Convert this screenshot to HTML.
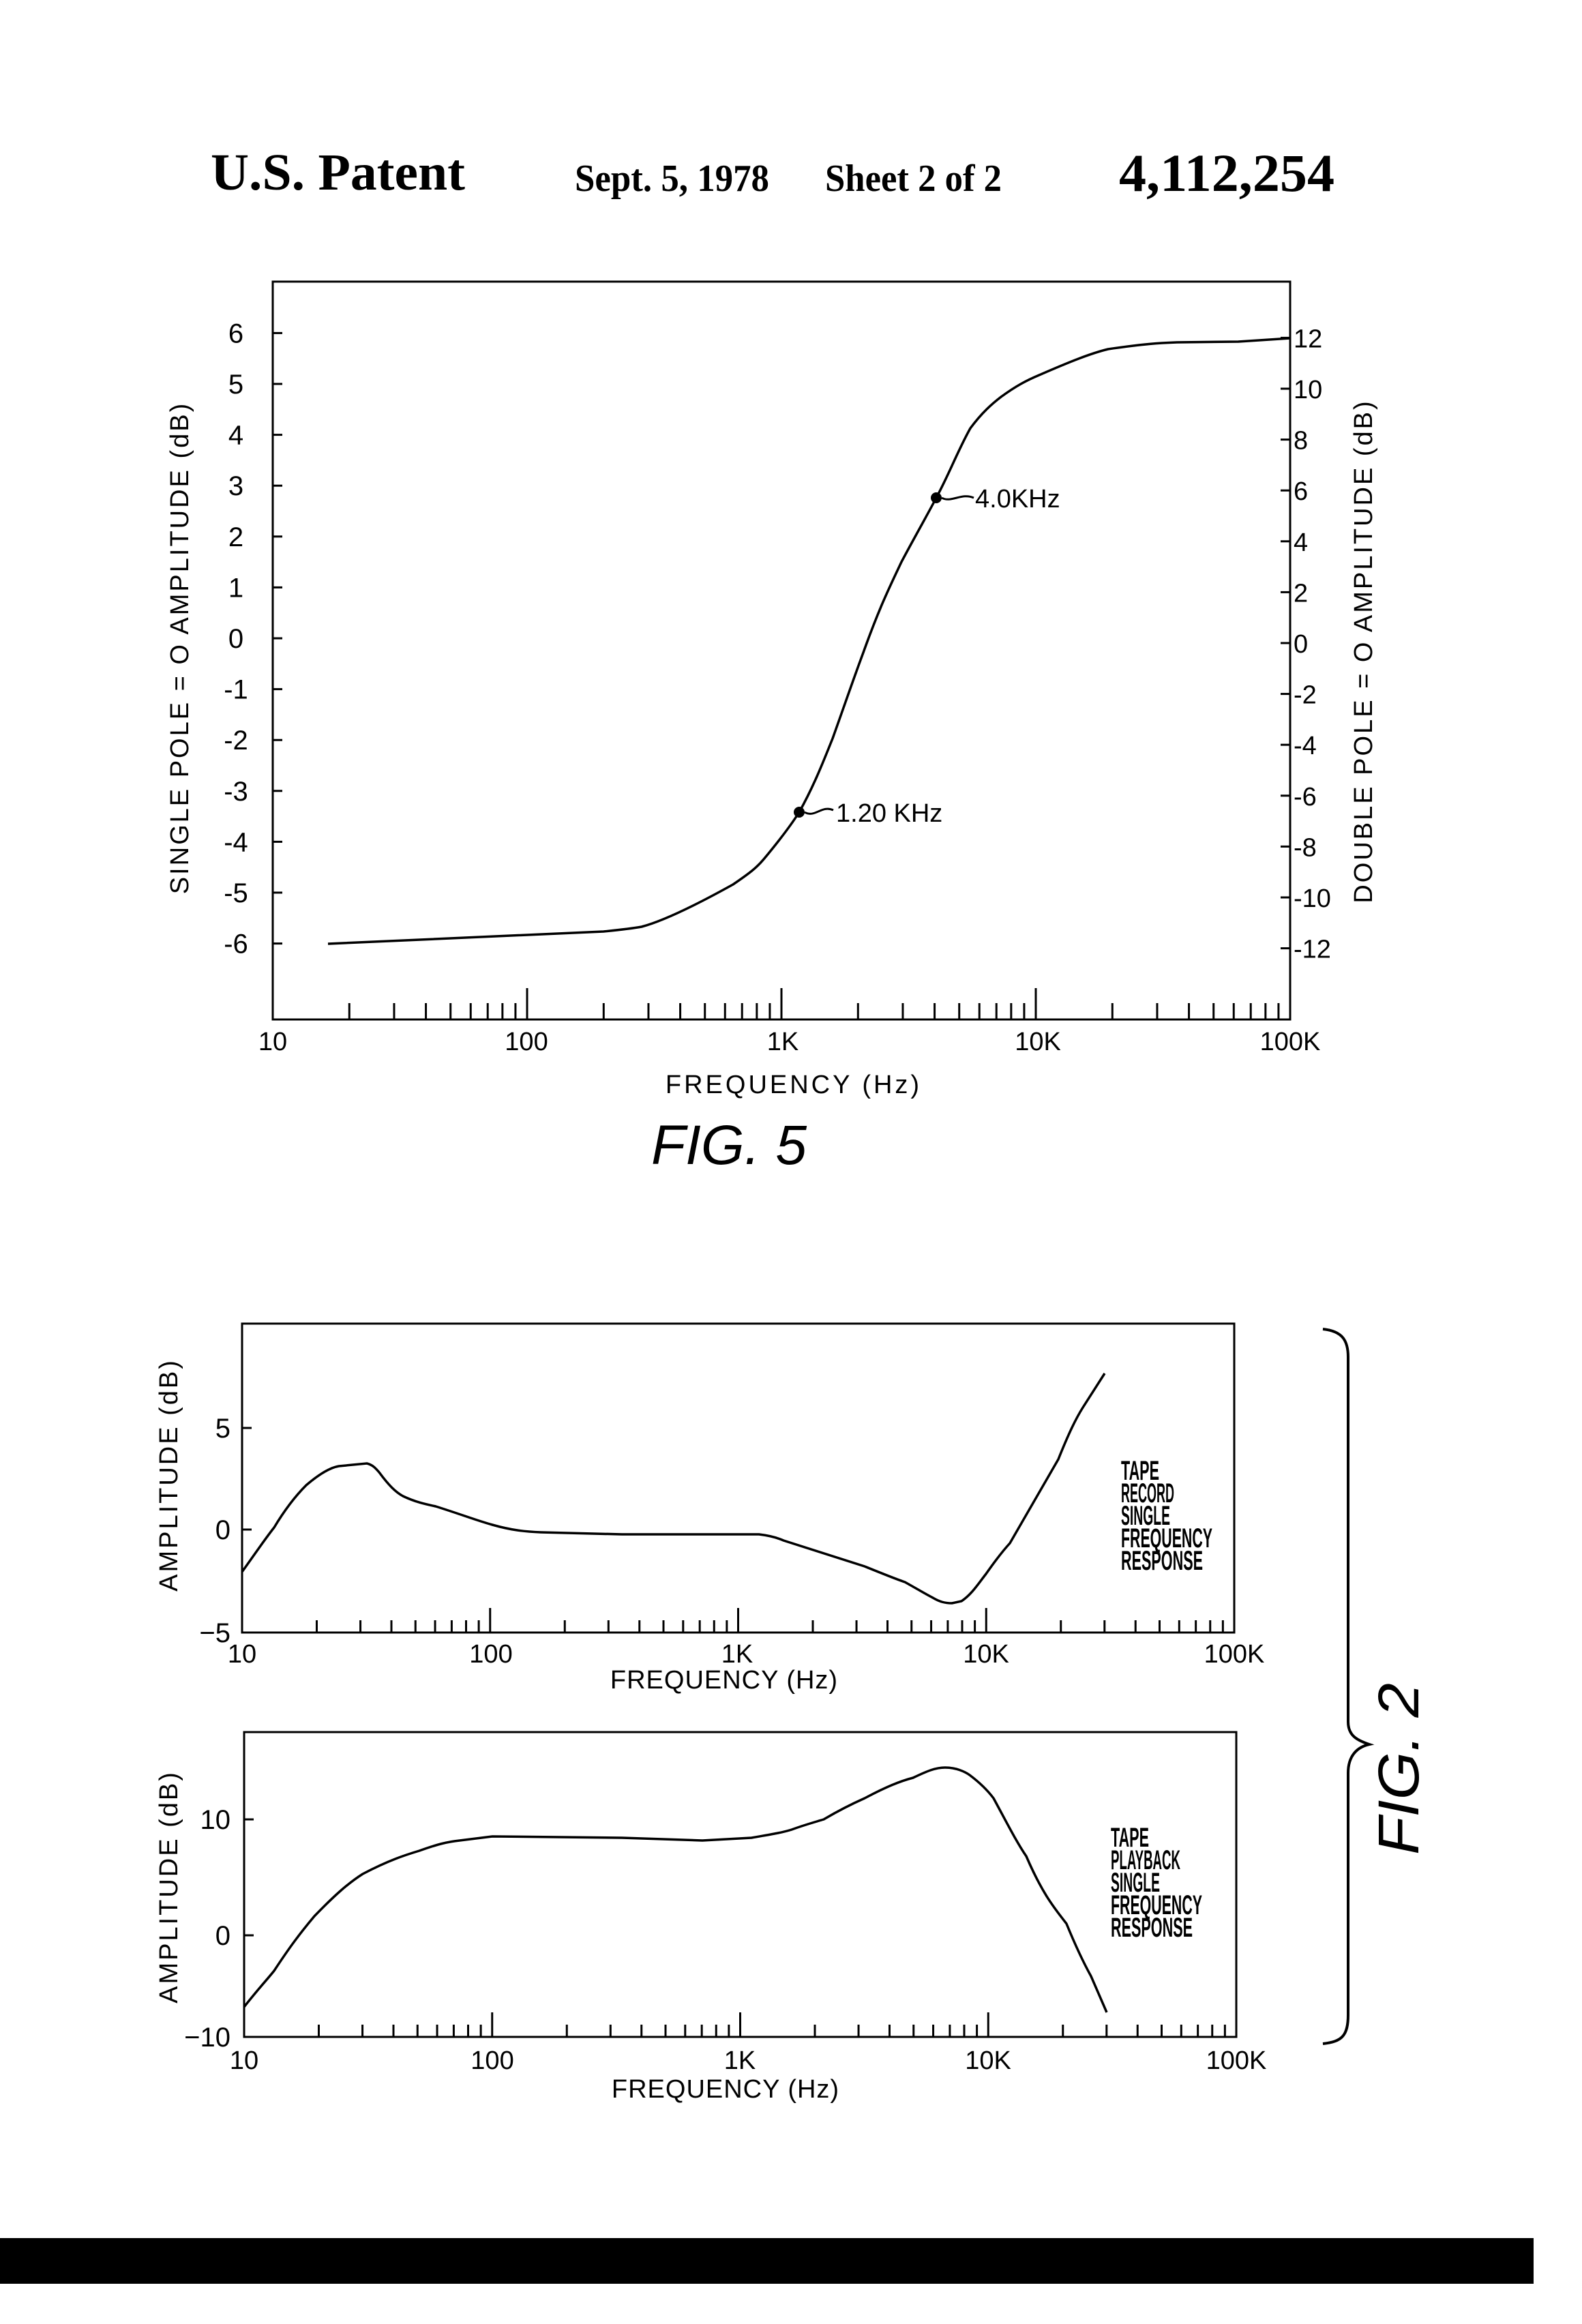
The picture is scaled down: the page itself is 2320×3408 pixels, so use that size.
<!DOCTYPE html>
<html><head><meta charset="utf-8"><style>
html,body{margin:0;padding:0;background:#fff;}
svg{display:block}
text{font-family:"Liberation Sans",sans-serif;fill:#000}
.s{font-family:"Liberation Serif",serif;font-weight:bold}
.lg{font-weight:bold}
</style></head><body>
<svg width="2320" height="3408" viewBox="0 0 2320 3408" xmlns="http://www.w3.org/2000/svg">
<rect width="2320" height="3408" fill="#fff"/>
<!-- Header -->
<text class="s" x="309" y="278" font-size="76" textLength="373" lengthAdjust="spacingAndGlyphs">U.S. Patent</text>
<text class="s" x="843" y="280" font-size="56" textLength="285" lengthAdjust="spacingAndGlyphs">Sept. 5, 1978</text>
<text class="s" x="1210" y="280" font-size="56" textLength="259" lengthAdjust="spacingAndGlyphs">Sheet 2 of 2</text>
<text class="s" x="1641" y="280" font-size="78" textLength="316" lengthAdjust="spacingAndGlyphs">4,112,254</text>

<!-- FIG 5 -->
<rect x="400" y="413" width="1492" height="1082" stroke-width="3" stroke="#000" fill="none"/>
<path d="M481,1384 L885,1366 C915,1363 930,1361 941,1359 C975,1350 1030,1322 1075,1297 C1100,1280 1110,1272 1120,1260 C1145,1230 1160,1210 1172,1191 C1195,1150 1210,1110 1221,1083 C1240,1030 1250,1000 1266,957 C1290,890 1305,860 1322,824 C1340,790 1360,755 1373,730 C1392,695 1405,660 1423,628 C1440,605 1455,592 1468,582 C1490,566 1505,558 1524,550 C1570,530 1600,518 1625,512 C1680,504 1700,503 1726,502 L1816,501 L1892,496" fill="none" stroke="#000" stroke-width="3.5"/>
<circle cx="1172" cy="1191" r="8"/>
<circle cx="1373" cy="730" r="8"/>
<path d="M1180,1191 C1195,1200 1205,1180 1222,1188" fill="none" stroke="#000" stroke-width="3"/>
<path d="M1381,730 C1395,738 1410,722 1428,730" fill="none" stroke="#000" stroke-width="3"/>
<text x="1226" y="1205" font-size="38">1.20 KHz</text>
<text x="1430" y="744" font-size="38">4.0KHz</text>
<g font-size="40" text-anchor="middle" id="f5lbl"></g>
<text x="1164" y="1603" font-size="38" text-anchor="middle" letter-spacing="4">FREQUENCY (Hz)</text>
<text x="955" y="1707" font-size="82" font-style="italic" textLength="228" lengthAdjust="spacingAndGlyphs">FIG. 5</text>
<text transform="translate(276,950) rotate(-90)" font-size="38" text-anchor="middle" letter-spacing="3">SINGLE  POLE = O      AMPLITUDE (dB)</text>
<text transform="translate(2012,955) rotate(-90)" font-size="38" text-anchor="middle" letter-spacing="3">DOUBLE  POLE = O      AMPLITUDE (dB)</text>

<!-- FIG 2 top -->
<rect x="355" y="1941" width="1455" height="453" fill="none" stroke="#000" stroke-width="3"/>
<path d="M355,2305 C380,2270 390,2255 402,2240 C420,2210 435,2192 449,2178 C470,2160 485,2152 497,2150 L538,2146 C546,2148 550,2152 556,2159 C570,2178 580,2188 591,2194 C610,2203 625,2206 639,2209 C680,2222 700,2230 722,2236 C750,2244 770,2246 793,2247 L912,2250 L1113,2250 C1130,2252 1140,2255 1149,2259 L1268,2297 C1300,2310 1315,2316 1327,2320 C1345,2330 1358,2338 1368,2343 C1378,2349 1386,2351 1396,2351 L1410,2348 C1425,2338 1435,2322 1446,2308 C1460,2288 1470,2275 1481,2263 L1552,2140 C1568,2100 1578,2080 1588,2064 L1620,2014" fill="none" stroke="#000" stroke-width="3.5"/>
<g font-size="40">
<text x="338" y="2108" text-anchor="end">5</text>
<text x="338" y="2257" text-anchor="end">0</text>
<text x="338" y="2408" text-anchor="end">−5</text>
</g>
<text transform="translate(260,2163) rotate(-90)" font-size="38" text-anchor="middle" letter-spacing="3">AMPLITUDE  (dB)</text>
<g font-size="38" text-anchor="middle">
<text x="355" y="2438">10</text><text x="720" y="2438">100</text><text x="1081" y="2438">1K</text><text x="1446" y="2438">10K</text><text x="1810" y="2438">100K</text>
</g>
<text x="1062" y="2476" font-size="38" text-anchor="middle" letter-spacing="1">FREQUENCY (Hz)</text>
<g font-size="40" class="lg" transform="translate(1644,0)">
<text x="0" y="2170" textLength="56" lengthAdjust="spacingAndGlyphs">TAPE</text>
<text x="0" y="2203" textLength="78" lengthAdjust="spacingAndGlyphs">RECORD</text>
<text x="0" y="2236" textLength="72" lengthAdjust="spacingAndGlyphs">SINGLE</text>
<text x="0" y="2269" textLength="134" lengthAdjust="spacingAndGlyphs">FREQUENCY</text>
<text x="0" y="2302" textLength="120" lengthAdjust="spacingAndGlyphs">RESPONSE</text>
</g>

<!-- FIG 2 bottom -->
<rect x="358" y="2540" width="1455" height="447" fill="none" stroke="#000" stroke-width="3"/>
<path d="M358,2943 C380,2915 390,2905 402,2890 C425,2855 440,2835 461,2810 C490,2780 510,2762 532,2748 C570,2728 595,2720 615,2714 C640,2705 655,2701 674,2699 L722,2693 L912,2695 L1030,2699 L1102,2695 C1130,2690 1145,2688 1161,2683 C1180,2676 1195,2672 1208,2668 C1230,2655 1250,2645 1268,2637 C1300,2620 1320,2612 1339,2607 C1360,2597 1372,2592 1386,2592 C1402,2592 1415,2598 1422,2603 C1438,2615 1448,2625 1457,2637 C1475,2670 1490,2700 1505,2722 C1530,2780 1548,2800 1564,2821 C1580,2860 1590,2880 1600,2898 L1623,2951" fill="none" stroke="#000" stroke-width="3.5"/>
<g font-size="40">
<text x="338" y="2682" text-anchor="end">10</text>
<text x="338" y="2852" text-anchor="end">0</text>
<text x="338" y="3001" text-anchor="end">−10</text>
</g>
<text transform="translate(260,2767) rotate(-90)" font-size="38" text-anchor="middle" letter-spacing="3">AMPLITUDE  (dB)</text>
<g font-size="38" text-anchor="middle">
<text x="358" y="3034">10</text><text x="722" y="3034">100</text><text x="1085" y="3034">1K</text><text x="1449" y="3034">10K</text><text x="1813" y="3034">100K</text>
</g>
<text x="1064" y="3076" font-size="38" text-anchor="middle" letter-spacing="1">FREQUENCY (Hz)</text>
<g font-size="40" class="lg" transform="translate(1629,0)">
<text x="0" y="2708" textLength="56" lengthAdjust="spacingAndGlyphs">TAPE</text>
<text x="0" y="2741" textLength="102" lengthAdjust="spacingAndGlyphs">PLAYBACK</text>
<text x="0" y="2774" textLength="72" lengthAdjust="spacingAndGlyphs">SINGLE</text>
<text x="0" y="2807" textLength="134" lengthAdjust="spacingAndGlyphs">FREQUENCY</text>
<text x="0" y="2840" textLength="120" lengthAdjust="spacingAndGlyphs">RESPONSE</text>
</g>

<!-- brace -->
<path d="M1940,1949 C1968,1952 1977,1965 1977,1990 L1977,2525 C1977,2545 1990,2552 2008,2558 C1990,2562 1977,2575 1977,2600 L1977,2955 C1977,2985 1968,2994 1940,2997" fill="none" stroke="#000" stroke-width="4"/>
<text transform="translate(2080,2594) rotate(-90)" font-size="84" font-style="italic" text-anchor="middle" textLength="252" lengthAdjust="spacingAndGlyphs">FIG. 2</text>

<!-- bottom bar -->
<rect x="0" y="3282" width="2249" height="67" fill="#000"/>

<g id="ticks" stroke="#000" stroke-width="3"></g>
</svg>
<script>
(function(){
var ns="http://www.w3.org/2000/svg",svg=document.querySelector("svg"),g=document.getElementById("ticks"),lg=document.getElementById("f5lbl");
function L(x1,y1,x2,y2){var l=document.createElementNS(ns,"line");l.setAttribute("x1",x1);l.setAttribute("y1",y1);l.setAttribute("x2",x2);l.setAttribute("y2",y2);g.appendChild(l);}
function T(x,y,s){var t=document.createElementNS(ns,"text");t.setAttribute("x",x);t.setAttribute("y",y);t.textContent=s;lg.appendChild(t);}
function xt(x0,x1,yb,maj,mn){var d=(x1-x0)/4;for(var k=0;k<4;k++){for(var m=2;m<=10;m++){var x=x0+d*(k+Math.log10(m));if(m==10&&k<3)L(x,yb,x,yb-maj);else if(m<10)L(x,yb,x,yb-mn);}}}
xt(400,1892,1495,46,24);
xt(355,1810,2394,36,18);
xt(358,1813,2987,36,18);
for(var v=-6;v<=6;v++){var y=936-v*74.6;L(400,y,414,y);T(346,y+14,v<0?("-"+(-v)):""+v);}
for(var v=-12;v<=12;v+=2){var y=943-v*37.3;L(1878,y,1892,y);var t=document.createElementNS(ns,"text");t.setAttribute("x",1897);t.setAttribute("y",y+14);t.setAttribute("font-size","38");t.textContent=""+v;svg.appendChild(t);}
var xl=[["10",400],["100",772],["1K",1148],["10K",1522],["100K",1892]];
xl.forEach(function(a){var t=document.createElementNS(ns,"text");t.setAttribute("x",a[1]);t.setAttribute("y",1540);t.setAttribute("font-size","38");t.setAttribute("text-anchor","middle");t.textContent=a[0];svg.appendChild(t);});
[2094,2243].forEach(function(y){L(355,y,369,y);});
[2668,2838].forEach(function(y){L(358,y,372,y);});
})();
</script>
</body></html>
